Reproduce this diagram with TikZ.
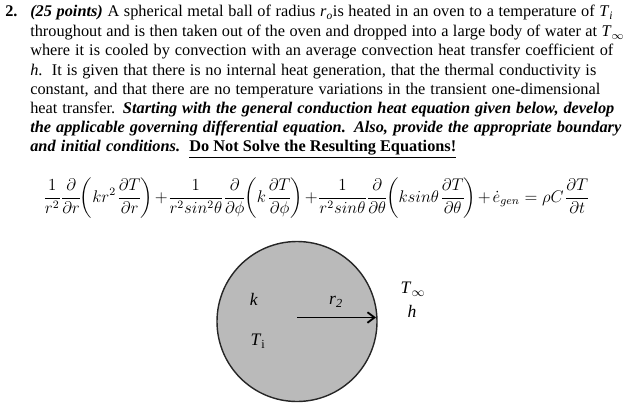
\documentclass[tikz,border=0pt]{standalone}
\usepackage{amsmath}
\usepackage{fontspec}
\setmainfont{Liberation Serif}
\usepackage{tikz}
\usetikzlibrary{arrows.meta}
\tikzset{
    textline/.style = {anchor=base west, inner sep=0pt, font=\fontsize{11.6}{14}\selectfont},
    ball label/.style = {inner sep=0pt, font=\fontsize{12.5}{14}\selectfont}
}
\newlength{\pxunit}
\setlength{\pxunit}{.025cm}
\newcommand{\itsub}[2]{\textit{#1}\textsubscript{\textit{#2}}}
\newcommand{\fitline}[2]{\makebox[#1\pxunit][s]{#2}}
\begin{document}
\begin{tikzpicture}[>={Straight Barb[length=5pt, width=7.5pt]}, x=.025cm, y=-.025cm]
            \useasboundingbox (0, 0) rectangle (629, 407);
            \node[textline] (number) at (5, 17) {\textbf{2.}};
            \node[textline] (line1) at (30, 17) {\fitline{583}{\textbf{\textit{(25 points)}} A spherical metal ball of radius \itsub{r}{o}is heated in an oven to a temperature of \itsub{T}{i}}};
            \node[textline] (line2) at (30, 36.5) {\fitline{594}{throughout and is then taken out of the oven and dropped into a large body of water at \textit{T}\textsubscript{$\infty$}}};
            \node[textline] (line3) at (30, 56) {\fitline{583}{where it is cooled by convection with an average convection heat transfer coefficient of}};
            \node[textline] (line4) at (30, 75) {\fitline{566}{\textit{h}.\ \ It is given that there is no internal heat generation, that the thermal conductivity is}};
            \node[textline] (line5) at (30, 94) {\fitline{570}{constant, and that there are no temperature variations in the transient one-dimensional}};
            \node[textline] (line6) at (30, 113) {\fitline{584}{heat transfer. \textbf{\textit{Starting with the general conduction heat equation given below, develop}}}};
            \node[textline] (line7) at (30, 132.5) {\fitline{591}{\textbf{\textit{the applicable governing differential equation. Also, provide the appropriate boundary}}}};
            \node[textline] (line8) at (30, 151) {\fitline{426}{\textbf{\textit{and initial conditions.}} \textbf{\underline{Do Not Solve the Resulting Equations!}}}};
            \node[inner sep=0pt] (equation) at (316.5, 198) {\fontsize{11.6}{14}\selectfont\nulldelimiterspace=0pt\medmuskip=2mu$\displaystyle
                \frac{1}{r^2}\,\frac{\partial}{\partial r}\bigg(kr^2\,\frac{\partial T}{\partial r}\bigg)
                + \frac{1}{r^2 sin^2\theta}\,\frac{\partial}{\partial\phi}\bigg(k\,\frac{\partial T}{\partial\phi}\bigg)
                + \frac{1}{r^2 sin\theta}\,\frac{\partial}{\partial\theta}\bigg(ksin\theta\,\frac{\partial T}{\partial\theta}\bigg)
                + \dot{e}_{gen} = \rho C\,\frac{\partial T}{\partial t}$};
            \node[circle, draw=black!85, fill=black!27, line width=1pt, minimum size=160*.025cm, inner sep=0pt] (ball) at (297, 321.5) {};
            \coordinate (radius start) at (297, 317.5);
            \coordinate (radius end) at (376, 317.5);
            \draw[->, line width=1.3pt] (radius start) -- (radius end);
            \node[ball label] (conductivity) at (254, 299) {\textit{k}};
            \node[ball label] (radius) at (336, 302) {\itsub{r}{2}};
            \node[ball label] (initial) at (258, 341) {\textit{T}\textsubscript{i}};
            \node[ball label] (ambient) at (413, 289) {\textit{T}\textsubscript{$\infty$}};
            \node[ball label] (coefficient) at (412, 311) {\textit{h}};
        \end{tikzpicture}
\end{document}
